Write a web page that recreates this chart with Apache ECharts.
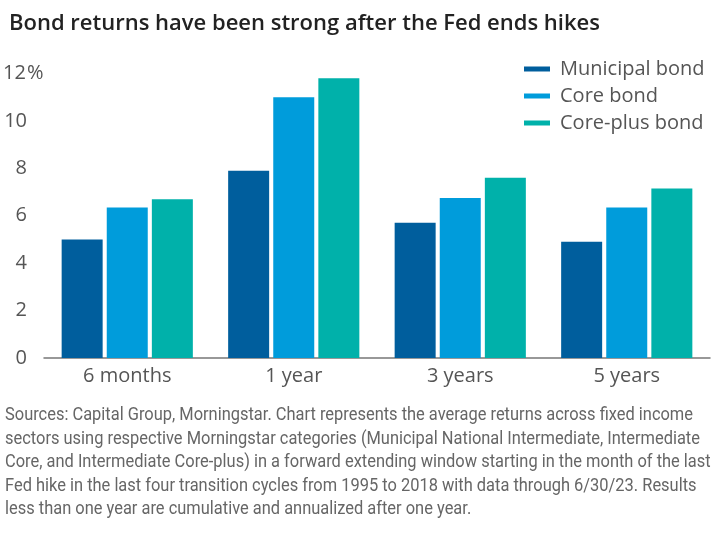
<!DOCTYPE html>
<html>
<head>
<meta charset="utf-8">
<script src="https://cdn.jsdelivr.net/npm/echarts@6/dist/echarts.min.js"></script>
<style>
  html, body { margin: 0; padding: 0; background: #fff; }
  #chart { width: 722px; height: 542px; }
</style>
</head>
<body>
<div id="chart"></div>
<script>
// data
var categories = ['6 months', '1 year', '3 years', '5 years'];
var municipal = [5.0, 7.9, 5.7, 4.9];
var core = [6.35, 11.0, 6.75, 6.35];
var corePlus = [6.7, 11.8, 7.6, 7.15];
var seriesNames = ['Municipal bond', 'Core bond', 'Core-plus bond'];
var yTicks = [0, 2, 4, 6, 8, 10, 12];

var footLines = [
    'Sources: Capital Group, Morningstar. Chart represents the average returns across fixed income',
    'sectors using respective Morningstar categories (Municipal National Intermediate, Intermediate',
    'Core, and Intermediate Core-plus) in a forward extending window starting in the month of the last',
    'Fed hike in the last four transition cycles from 1995 to 2018 with data through 6/30/23. Results',
    'less than one year are cumulative and annualized after one year.'
];

var FONT = '"Open Sans"';
var FOOT_FONT = 'Roboto';

// footer is set in a condensed face: squeeze a normal one to the same width
function footScale() {
    var ctx = document.createElement('canvas').getContext('2d');
    ctx.font = '18px ' + FOOT_FONT;
    return 688 / ctx.measureText(footLines[0]).width;
}

var chart = echarts.init(document.getElementById('chart'));

function bar(name, data, color) {
    return {
        name: name,
        type: 'bar',
        data: data,
        barWidth: 41,
        barGap: '10%',
        itemStyle: { color: color }
    };
}

var labelStyle = { fontFamily: FONT, fontSize: 20, color: '#555' };

var option = {
    animation: false,
    title: {
        text: 'Bond returns have been strong after the Fed ends hikes',
        left: 4,
        top: 8,
        textStyle: {
            fontFamily: FONT,
            fontWeight: 600,
            fontSize: 22,
            color: '#222'
        }
    },
    legend: {
        orient: 'vertical',
        left: 524,
        top: 59,
        padding: 0,
        icon: 'rect',
        itemWidth: 26,
        itemHeight: 5,
        itemGap: 7,
        data: seriesNames,
        textStyle: {
            fontFamily: FONT,
            fontSize: 20,
            color: '#555',
            lineHeight: 20,
            padding: [0, 0, 0, 5]
        }
    },
    grid: {
        left: 44,
        right: 12,
        top: 73.5,
        bottom: 184
    },
    xAxis: {
        type: 'category',
        data: categories,
        axisLine: { lineStyle: { color: '#777', width: 1.5 } },
        axisTick: { show: false },
        axisLabel: {
            margin: 8,
            fontFamily: FONT,
            fontSize: 20,
            color: '#555'
        }
    },
    yAxis: {
        type: 'value',
        min: yTicks[0],
        max: yTicks[yTicks.length - 1],
        interval: 2,
        splitLine: { show: false },
        axisLine: { show: false },
        axisTick: { show: false },
        axisLabel: {
            align: 'left',
            margin: 42,
            formatter: function (v) {
                return '{n|' + v + '}' + (v === 12 ? '{p|%}' : '');
            },
            rich: {
                n: { width: 25, align: 'right', fontFamily: FONT, fontSize: 20, color: '#555' },
                p: labelStyle
            }
        }
    },
    series: [
        bar(seriesNames[0], municipal, '#005e9d'),
        bar(seriesNames[1], core, '#009cdb'),
        bar(seriesNames[2], corePlus, '#00b1aa')
    ],
    graphic: [{
        type: 'text',
        x: 5,
        y: 404,
        scaleX: footScale(),
        style: {
            text: footLines.join('\n'),
            fontFamily: FOOT_FONT,
            fontSize: 18,
            lineHeight: 23.5,
            fill: '#666'
        }
    }]
};

chart.setOption(option);
</script>
</body>
</html>
